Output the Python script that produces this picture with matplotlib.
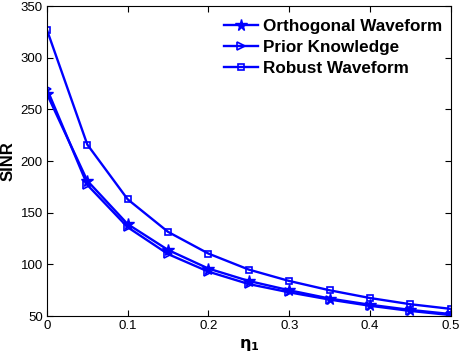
import matplotlib.pyplot as plt

eta = [0, 0.05, 0.1, 0.15, 0.2, 0.25, 0.3, 0.35, 0.4, 0.45, 0.5]
orthogonal = [265, 181, 139, 114, 96, 84, 75, 67, 61, 56, 52]
prior = [270, 177, 136, 110, 93, 81, 73, 66, 60, 55, 51]
robust = [327, 216, 163, 131.5, 110.5, 95, 84, 75, 67.5, 61.5, 57]

plt.rcParams['font.family'] = ['Liberation Sans', 'DejaVu Sans']

fig = plt.figure(figsize=(4.6, 3.58), dpi=100)
ax = fig.add_axes([0.102, 0.117, 0.878, 0.866])

ax.plot(eta, orthogonal, color='b', lw=1.7, marker='*', ms=8.5, label='Orthogonal Waveform')
ax.plot(eta, prior, color='b', lw=1.7, marker='>', ms=6, mfc='none', mew=1.2, label='Prior Knowledge')
ax.plot(eta, robust, color='b', lw=1.7, marker='s', ms=4.5, mfc='none', mew=1.2, label='Robust Waveform')

ax.set_xlim(0, 0.5)
ax.set_ylim(50, 350)
ax.set_xticks([0, 0.1, 0.2, 0.3, 0.4, 0.5])
ax.set_xticklabels(['0', '0.1', '0.2', '0.3', '0.4', '0.5'])
ax.set_yticks(range(50, 351, 50))
ax.tick_params(direction='in', top=True, right=True, labelsize=9.5, length=4, pad=3)
ax.set_xlabel(r'$\mathbf{\eta_1}$', fontsize=11.5)
ax.xaxis.set_label_coords(0.5, -0.068)
ax.set_ylabel('SINR', fontsize=12, fontweight='bold')
ax.yaxis.set_label_coords(-0.077, 0.5)

leg = ax.legend(loc='upper right', frameon=False, fontsize=12.3, handlelength=2.0,
                handletextpad=0.3, labelspacing=0.35, borderaxespad=0.2,
                bbox_to_anchor=(1.005, 0.99))
for t in leg.get_texts():
    t.set_fontweight('bold')

fig.savefig('out.png', dpi=100)
